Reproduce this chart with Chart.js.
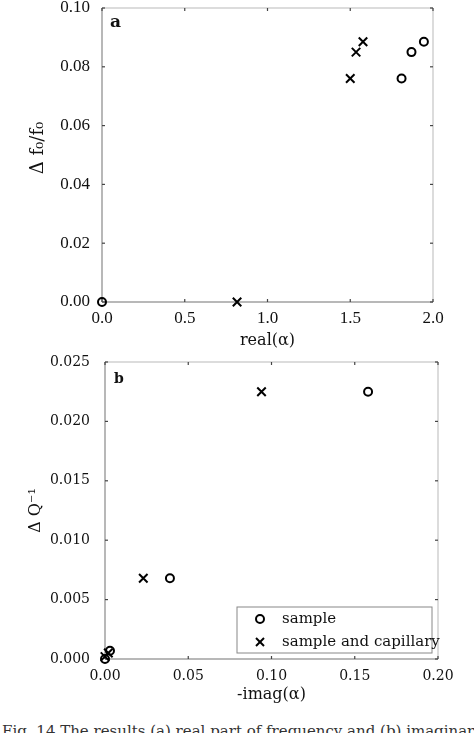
<!DOCTYPE html>
<html>
<head>
<meta charset="utf-8">
<script src="https://cdn.jsdelivr.net/npm/chart.js@4.4.0/dist/chart.umd.min.js"></script>
<style>
  body { margin: 0; background: #fff; width: 474px; height: 733px; overflow: hidden; position: relative; }
  #wrapA { position: absolute; left: 0; top: 0; }
  #wrapB { position: absolute; left: 0; top: 352px; }
  #caption { position: absolute; left: 2px; top: 722px; font: 15px "DejaVu Serif", serif; color: #333; white-space: nowrap; }
</style>
</head>
<body>
<div id="wrapA"><canvas id="chartA" width="474" height="352"></canvas></div>
<div id="wrapB"><canvas id="chartB" width="474" height="360"></canvas></div>
<div id="caption">Fig. 14  The results (a) real part of frequency and (b) imaginary part of quality factor</div>
<script>
// panel a: frequency shift vs real(alpha)
const sampleAX = [0, 1.81, 1.87, 1.945];
const sampleAY = [0, 0.076, 0.085, 0.0885];
const capAX = [0.816, 1.5, 1.535, 1.577];
const capAY = [0, 0.076, 0.085, 0.0885];
const ticksAX = [0, 0.5, 1.0, 1.5, 2.0];
const ticksAY = [0, 0.02, 0.04, 0.06, 0.08, 0.10];

// panel b: inverse Q shift vs -imag(alpha)
const sampleBX = [0, 0.003, 0.039, 0.158];
const sampleBY = [0, 0.0007, 0.0068, 0.0225];
const capBX = [0, 0.002, 0.023, 0.094];
const capBY = [0.0002, 0.0005, 0.0068, 0.0225];
const ticksBX = [0, 0.05, 0.10, 0.15, 0.20];
const ticksBY = [0, 0.005, 0.010, 0.015, 0.020, 0.025];

const legendLabels = ["sample", "sample and capillary"];

function toPoints(xs, ys) {
  return xs.map((x, i) => ({ x: x, y: ys[i] }));
}

function line(ctx, x1, y1, x2, y2) {
  ctx.beginPath();
  ctx.moveTo(x1, y1);
  ctx.lineTo(x2, y2);
  ctx.stroke();
}

function drawCircle(ctx, x, y) {
  ctx.beginPath();
  ctx.arc(x, y, 4, 0, Math.PI * 2);
  ctx.stroke();
}

function drawCross(ctx, x, y) {
  const d = 4;
  line(ctx, x - d, y - d, x + d, y + d);
  line(ctx, x - d, y + d, x + d, y - d);
}

// box round the plot area with small inward ticks on every side
const framePlugin = {
  id: "frame",
  beforeDatasetsDraw(chart) {
    const { ctx, chartArea: a, scales: { x, y } } = chart;
    ctx.save();
    ctx.lineWidth = 1.5;
    ctx.strokeStyle = "#d0d0d0";
    line(ctx, a.left, a.top, a.right, a.top);
    line(ctx, a.right, a.top, a.right, a.bottom);
    ctx.strokeStyle = "#a0a0a0";
    line(ctx, a.left, a.top, a.left, a.bottom);
    line(ctx, a.left, a.bottom, a.right, a.bottom);
    ctx.strokeStyle = "#444";
    ctx.lineWidth = 1.2;
    x.ticks.forEach((t) => {
      const px = x.getPixelForValue(t.value);
      line(ctx, px, a.bottom, px, a.bottom - 3);
      line(ctx, px, a.top, px, a.top + 3);
    });
    y.ticks.forEach((t) => {
      const py = y.getPixelForValue(t.value);
      line(ctx, a.left, py, a.left + 3, py);
      line(ctx, a.right, py, a.right - 3, py);
    });
    ctx.restore();
  },
  afterDraw(chart) {
    const o = chart.options.plugins.frame;
    const { ctx, chartArea: a } = chart;
    ctx.save();
    ctx.fillStyle = "#111";
    ctx.textAlign = "center";
    ctx.textBaseline = "middle";
    ctx.font = o.titleFont;
    ctx.fillText(o.xTitle, (a.left + a.right) / 2, o.xTitleY);
    ctx.save();
    ctx.translate(o.yTitleX, (a.top + a.bottom) / 2 - o.yTitleShift);
    ctx.rotate(-Math.PI / 2);
    ctx.font = o.yTitleFont;
    ctx.fillText(o.yTitle, 0, 0);
    ctx.restore();
    ctx.font = o.panelFont;
    ctx.textAlign = "left";
    ctx.fillText(o.panel, o.panelX, o.panelY);

    if (o.legend) {
      const L = o.legend;
      ctx.strokeStyle = "#888";
      ctx.lineWidth = 1;
      ctx.strokeRect(L.left, L.top, L.width, L.height);
      ctx.strokeStyle = "#000";
      ctx.lineWidth = 2;
      drawCircle(ctx, L.left + 23, L.top + 12);
      drawCross(ctx, L.left + 23, L.top + 35);
      ctx.font = L.font;
      ctx.fillStyle = "#111";
      ctx.fillText(legendLabels[0], L.left + 45, L.top + 12);
      ctx.fillText(legendLabels[1], L.left + 45, L.top + 35);
    }
    ctx.restore();
  }
};

function makeChart(id, cfg) {
  return new Chart(document.getElementById(id), {
    type: "scatter",
    data: {
      datasets: [
        {
          label: legendLabels[0],
          data: toPoints(cfg.sx, cfg.sy),
          pointStyle: "circle",
          pointRadius: 4,
          pointBorderWidth: 2,
          borderColor: "#000",
          backgroundColor: "rgba(0,0,0,0)",
          clip: false
        },
        {
          label: legendLabels[1],
          data: toPoints(cfg.cx, cfg.cy),
          pointStyle: "crossRot",
          pointRadius: 6,
          pointBorderWidth: 2,
          borderColor: "#000",
          backgroundColor: "#000",
          clip: false
        }
      ]
    },
    options: {
      responsive: false,
      animation: false,
      layout: { padding: cfg.padding },
      plugins: {
        legend: { display: false },
        tooltip: { enabled: false },
        frame: cfg.frame
      },
      scales: {
        x: {
          type: "linear",
          min: cfg.tx[0],
          max: cfg.tx[cfg.tx.length - 1],
          afterBuildTicks: (s) => { s.ticks = cfg.tx.map((v) => ({ value: v })); },
          afterFit: (s) => {
            s.height = cfg.xHeight;
            s.paddingLeft = 0;
            s.paddingRight = 0;
          },
          grid: { display: false, drawTicks: false },
          border: { display: false },
          ticks: {
            padding: cfg.xPad,
            color: "#111",
            font: cfg.tickFont,
            callback: (v) => v.toFixed(cfg.xDec)
          }
        },
        y: {
          type: "linear",
          min: cfg.ty[0],
          max: cfg.ty[cfg.ty.length - 1],
          afterBuildTicks: (s) => { s.ticks = cfg.ty.map((v) => ({ value: v })); },
          afterFit: (s) => {
            s.width = cfg.yWidth;
            s.paddingTop = 0;
            s.paddingBottom = 0;
          },
          grid: { display: false, drawTicks: false },
          border: { display: false },
          ticks: {
            padding: cfg.yPad,
            color: "#111",
            font: cfg.tickFont,
            callback: (v) => v.toFixed(cfg.yDec)
          }
        }
      }
    },
    plugins: [framePlugin]
  });
}

makeChart("chartA", {
  sx: sampleAX, sy: sampleAY, cx: capAX, cy: capAY,
  tx: ticksAX, ty: ticksAY, xDec: 1, yDec: 2,
  padding: { left: 0, right: 41, top: 7, bottom: 0 },
  xHeight: 50, yWidth: 102, xPad: 6, yPad: 12,
  tickFont: { family: "Liberation Serif", size: 17 },
  frame: {
    xTitle: "real(α)", xTitleY: 341,
    yTitle: "Δ f₀/f₀", yTitleX: 38, yTitleShift: 7,
    titleFont: "16px 'DejaVu Serif'",
    yTitleFont: "18px 'DejaVu Serif'",
    panel: "a", panelX: 110, panelY: 23,
    panelFont: "bold 17px 'DejaVu Serif'"
  }
});

makeChart("chartB", {
  sx: sampleBX, sy: sampleBY, cx: capBX, cy: capBY,
  tx: ticksBX, ty: ticksBY, xDec: 2, yDec: 3,
  padding: { left: 0, right: 36, top: 10, bottom: 0 },
  xHeight: 53, yWidth: 105, xPad: 9, yPad: 15,
  tickFont: { family: "DejaVu Serif", size: 14 },
  frame: {
    xTitle: "-imag(α)", xTitleY: 343,
    yTitle: "Δ Q⁻¹", yTitleX: 36, yTitleShift: 0,
    titleFont: "16px 'DejaVu Serif'",
    yTitleFont: "16px 'DejaVu Serif'",
    panel: "b", panelX: 114, panelY: 27,
    panelFont: "bold 14px 'DejaVu Serif'",
    legend: { left: 237, top: 255, width: 195, height: 46, font: "15px 'DejaVu Serif'" }
  }
});
</script>
</body>
</html>
